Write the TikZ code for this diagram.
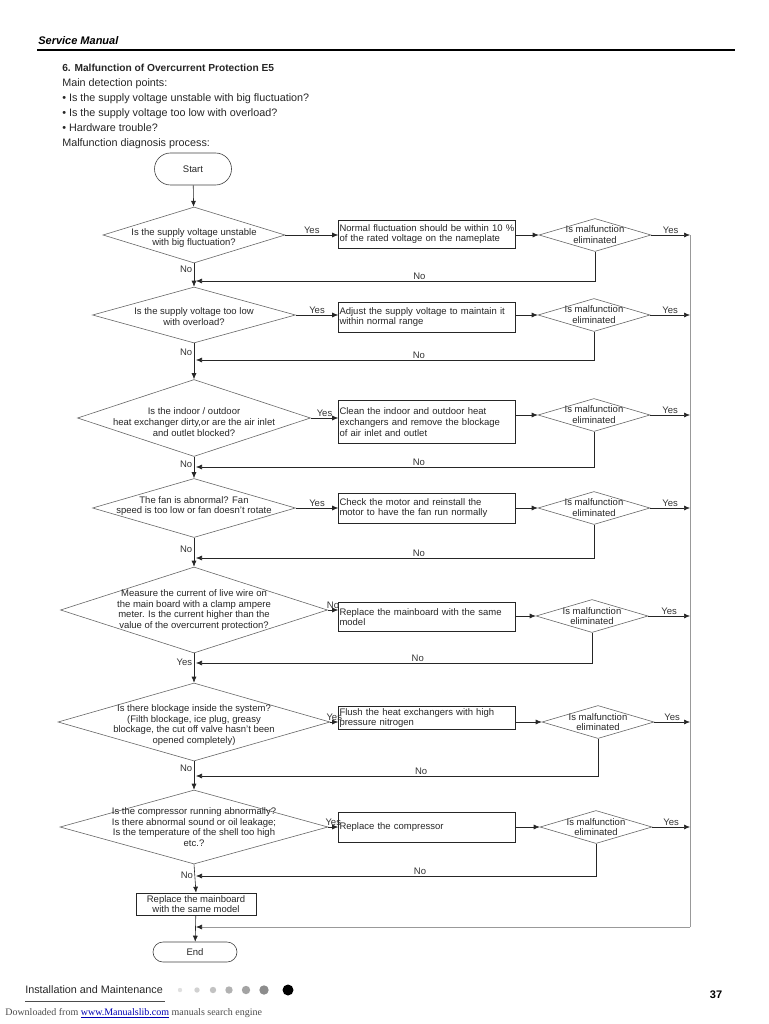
\documentclass[tikz,border=0pt]{standalone}
\usepackage{fontspec}
\setmainfont{Liberation Sans}
\newfontfamily\timesfont{Liberation Serif}
\usetikzlibrary{shapes.geometric, arrows.meta}
\tikzset{> = {Latex[length=6pt,width=5pt]}, every picture/.style={line width=0.6pt}}
\newcommand{\chartfont}{\fontsize{9.5}{10.8}\selectfont}
\newcommand{\bodyfont}{\fontsize{10.8}{13}\selectfont}

\tikzset{
  decision/.style={diamond, draw=black!60, inner sep=0pt},
  dtext/.style={align=center, font=\chartfont, text=black!85, inner sep=0pt},
  check/.style={decision, minimum width=112pt, minimum height=33pt},
  action/.style={rectangle, draw=black!85, text width=175pt, inner xsep=1pt,
    inner ysep=1pt, align=left, font=\chartfont, text=black!85},
  terminal/.style={rectangle, draw=black!75, font=\chartfont, text=black!85},
  endbox/.style={rectangle, draw=black!85, align=center, inner sep=1pt,
    font=\chartfont, text=black!85},
  lbl/.style={font=\chartfont, text=black!80, inner sep=1.5pt},
}

\begin{document}
\begin{tikzpicture}[x=1pt, y=-1pt]
\useasboundingbox (0,0) rectangle (768,1024);

% page header
\node[anchor=west, inner sep=0pt, font=\fontsize{11}{13}\selectfont\bfseries\itshape] (hdr) at (38,41) {Service Manual};
\draw[line width=1.2pt] (37,50) -- (735,50);

\begin{scope}[every node/.style={anchor=west, inner sep=0pt, font=\bodyfont, text=black!85}]
\node[font=\fontsize{10.2}{13}\selectfont\bfseries] (title) at (62,68) {6. Malfunction of Overcurrent Protection E5};
\node (pts) at (62,84) {Main detection points:};
\node (pt1) at (62,99) {• Is the supply voltage unstable with big fluctuation?};
\node (pt2) at (62,114) {• Is the supply voltage too low with overload?};
\node (pt3) at (62,128) {• Hardware trouble?};
\node (proc) at (62,144) {Malfunction diagnosis process:};
\end{scope}

% start / end
\node[terminal, rounded corners=16pt, minimum width=77pt, minimum height=32pt] (start) at (193,169) {Start};
\node[terminal, rounded corners=10pt, minimum width=84pt, minimum height=20pt] (end) at (195,952) {End};

% decisions on the main line
\node[decision, minimum width=182pt, minimum height=56pt,
  label={[dtext, yshift=-3pt]center:{Is the supply voltage unstable\\with big fluctuation?}}] (d1) at (194,235) {};
\node[decision, minimum width=203pt, minimum height=56pt,
  label={[dtext, yshift=-2pt]center:{Is the supply voltage too low\\with overload?}}] (d2) at (194,315) {};
\node[decision, minimum width=233pt, minimum height=77pt,
  label={[dtext, yshift=-4pt]center:{Is the indoor / outdoor\\heat exchanger dirty,or are the air inlet\\and outlet blocked?}}] (d3) at (194,418) {};
\node[decision, minimum width=203pt, minimum height=59pt,
  label={[dtext, yshift=2pt]center:{The fan is abnormal? Fan\\speed is too low or fan doesn't rotate}}] (d4) at (194,508) {};
\node[decision, minimum width=267pt, minimum height=86pt,
  label={[dtext]center:{Measure the current of live wire on\\the main board with a clamp ampere\\meter. Is the current higher than the\\value of the overcurrent protection?}}] (d5) at (194,610) {};
\node[decision, minimum width=272pt, minimum height=78pt,
  label={[dtext, yshift=-3pt]center:{Is there blockage inside the system?\\(Filth blockage, ice plug, greasy\\blockage, the cut off valve hasn't been\\opened completely)}}] (d6) at (194,722) {};
\node[decision, minimum width=268pt, minimum height=74pt,
  label={[dtext]center:{Is the compressor running abnormally?\\Is there abnormal sound or oil leakage;\\Is the temperature of the shell too high\\etc.?}}] (d7) at (194,827) {};

% remedies
\node[action, minimum height=28pt] (b1) at (427,234) {Normal fluctuation should be within 10 \%\\of the rated voltage on the nameplate};
\node[action, minimum height=30pt] (b2) at (427,317) {Adjust the supply voltage to maintain it\\within normal range};
\node[action, minimum height=43pt] (b3) at (427,422) {Clean the indoor and outdoor heat\\exchangers and remove the blockage\\of air inlet and outlet};
\node[action, minimum height=30pt] (b4) at (427,508) {Check the motor and reinstall the\\motor to have the fan run normally};
\node[action, minimum height=29pt] (b5) at (427,617) {Replace the mainboard with the same\\model};
\node[action, minimum height=23pt] (b6) at (427,718) {Flush the heat exchangers with high\\pressure nitrogen};
\node[action, minimum height=30pt] (b7) at (427,827) {Replace the compressor};
\node[endbox, minimum width=120pt, minimum height=22pt] (fix) at (196,904) {Replace the mainboard\\with the same model};

% checks
\node[check, label={[dtext]center:{Is malfunction\\eliminated}}] (c1) at (595,235) {};
\node[check, label={[dtext]center:{Is malfunction\\eliminated}}] (c2) at (594,315) {};
\node[check, label={[dtext]center:{Is malfunction\\eliminated}}] (c3) at (594,415) {};
\node[check, label={[dtext]center:{Is malfunction\\eliminated}}] (c4) at (594,508) {};
\node[check, label={[dtext]center:{Is malfunction\\eliminated}}] (c5) at (592,616) {};
\node[check, label={[dtext]center:{Is malfunction\\eliminated}}] (c6) at (598,722) {};
\node[check, label={[dtext]center:{Is malfunction\\eliminated}}] (c7) at (596,827) {};

% joints
\coordinate (j1) at (196,281);
\coordinate (j2) at (196,360);
\coordinate (j3) at (196,467);
\coordinate (j4) at (196,558);
\coordinate (j5) at (196,663);
\coordinate (j6) at (196,776);
\coordinate (j7) at (196,876);
\coordinate (rtop) at (690,235);
\coordinate (rbot) at (690,927);
\coordinate (jend) at (196,927);

\begin{scope}[every edge/.style={draw=black!85}]
    \path [->] (start) edge (d1);
    \path [->] (d1.south) edge node[lbl,left,pos=0.25]{No} (d2.north);
    \path [->] (d2.south) edge node[lbl,left,pos=0.25]{No} (d3.north);
    \path [->] (d3.south) edge node[lbl,left,pos=0.35]{No} (d4.north);
    \path [->] (d4.south) edge node[lbl,left,pos=0.4]{No} (d5.north);
    \path [->] (d5.south) edge node[lbl,left,pos=0.3]{Yes} (d6.north);
    \path [->] (d6.south) edge node[lbl,left,pos=0.25]{No} (d7.north);
    \path [->] (d7.south) edge node[lbl,left,pos=0.4]{No} (fix.north);
    \path [->] (fix) edge (end);

    \path [->] (d1.east) edge node[lbl,above]{Yes} (d1.east -| b1.west);
    \path [->] (d2.east) edge node[lbl,above]{Yes} (d2.east -| b2.west);
    \path [->] (d3.east) edge node[lbl,above]{Yes} (d3.east -| b3.west);
    \path [->] (d4.east) edge node[lbl,above]{Yes} (d4.east -| b4.west);
    \path [->] (d5.east) edge node[lbl,above]{No} (d5.east -| b5.west);
    \path [->] (d6.east) edge node[lbl,above]{Yes} (d6.east -| b6.west);
    \path [->] (d7.east) edge node[lbl,above]{Yes} (d7.east -| b7.west);

    \path [->] (c1 -| b1.east) edge (c1.west);
    \path [->] (c2 -| b2.east) edge (c2.west);
    \path [->] (c3 -| b3.east) edge (c3.west);
    \path [->] (c4 -| b4.east) edge (c4.west);
    \path [->] (c5 -| b5.east) edge (c5.west);
    \path [->] (c6 -| b6.east) edge (c6.west);
    \path [->] (c7 -| b7.east) edge (c7.west);

    \path [->] (c1.east) edge node[lbl,above]{Yes} (c1.east -| rtop);
    \path [->] (c2.east) edge node[lbl,above]{Yes} (c2.east -| rtop);
    \path [->] (c3.east) edge node[lbl,above]{Yes} (c3.east -| rtop);
    \path [->] (c4.east) edge node[lbl,above]{Yes} (c4.east -| rtop);
    \path [->] (c5.east) edge node[lbl,above]{Yes} (c5.east -| rtop);
    \path [->] (c6.east) edge node[lbl,above]{Yes} (c6.east -| rtop);
    \path [->] (c7.east) edge node[lbl,above]{Yes} (c7.east -| rtop);
\end{scope}

% loops back to the main line
\draw [->, black!85] (c1.south) |- node[lbl,above,pos=0.72]{No} (j1);
\draw [->, black!85] (c2.south) |- node[lbl,above,pos=0.72]{No} (j2);
\draw [->, black!85] (c3.south) |- node[lbl,above,pos=0.72]{No} (j3);
\draw [->, black!85] (c4.south) |- node[lbl,above,pos=0.72]{No} (j4);
\draw [->, black!85] (c5.south) |- node[lbl,above,pos=0.72]{No} (j5);
\draw [->, black!85] (c6.south) |- node[lbl,above,pos=0.72]{No} (j6);
\draw [->, black!85] (c7.south) |- node[lbl,above,pos=0.72]{No} (j7);

% rail to the end
\draw [black!40] (rtop) -- (rbot);
\draw [-{Latex[length=6pt,width=5pt,color=black!85]}, black!40] (rbot) -- (jend);

% page footer
\node[anchor=west, inner sep=0pt, font=\fontsize{10.8}{13}\selectfont, text=black!85] (foot) at (25,990) {Installation and Maintenance};
\draw [black!70] (25,1001) -- (165,1001);
\foreach \x/\r/\c in {180/2.2/12, 197/2.7/18, 213/3.2/24, 229/3.7/30, 246/4.2/36, 264/4.7/45, 288/5.5/100}
    \fill[black!\c] (\x,990) circle (\r);
\node[font=\fontsize{11}{13}\selectfont\bfseries] (page) at (716,995) {37};
\node[anchor=west, inner sep=0pt, font=\timesfont\fontsize{10}{12}\selectfont, text=black!70] (dl) at (5,1013)
  {Downloaded from \textcolor{blue!70!black}{\underline{www.Manualslib.com}} manuals search engine};
\end{tikzpicture}
\end{document}
